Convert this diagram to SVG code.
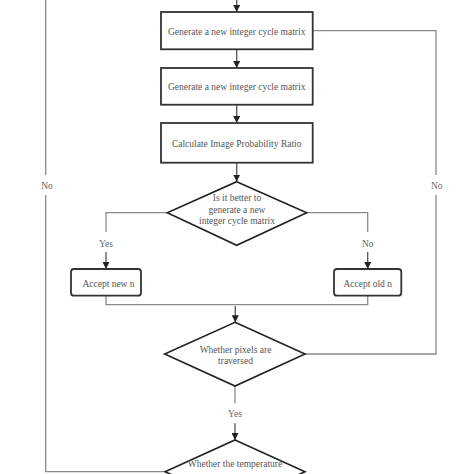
<svg xmlns="http://www.w3.org/2000/svg" width="474" height="474" viewBox="0 0 474 474">
<style>
.box{fill:#fff;stroke:#333;stroke-width:1.8}
.dia{fill:#fff;stroke:#222;stroke-width:1.6}
.ln{fill:none;stroke:#8a8a8a;stroke-width:1.3}
.ar{fill:none;stroke:#555;stroke-width:1.3;marker-end:url(#ah)}
.t{font-family:"Liberation Serif","Times New Roman",serif;font-size:9.5px;fill:#555;text-anchor:middle}
.lb{font-family:"Liberation Serif","Times New Roman",serif;font-size:9.5px;fill:#666;text-anchor:middle}
</style>
<defs>
<marker id="ah" viewBox="0 0 10 10" refX="10" refY="5" markerWidth="7" markerHeight="7" markerUnits="userSpaceOnUse" orient="auto">
<path d="M0,0 L10,5 L0,10 z" fill="#222"/>
</marker>
</defs>
<rect width="474" height="474" fill="#fff"/>
<g id="connectors">
<path class="ar" d="M236.7,0 V12"/>
<path class="ar" d="M236.7,49.3 V68"/>
<path class="ar" d="M236.7,104.7 V123"/>
<path class="ar" d="M236.7,162.7 V181.7"/>
<path class="ln" d="M167.3,212.7 H106 V232"/>
<path class="ar" d="M106,252 V269"/>
<path class="ln" d="M306.7,212.7 H367.7 V232"/>
<path class="ar" d="M367.7,252 V269"/>
<path class="ln" d="M106,295.7 V304.7 H367.7 V295.7"/>
<path class="ar" d="M235.3,306 V322.3"/>
<path class="ln" d="M235,386 V403.3"/>
<path class="ar" d="M235,423.3 V440"/>
<path class="ln" d="M305,354 H436 V195"/>
<path class="ln" d="M436,175 V30.7 H312.7"/>
<path class="ln" d="M165,471.7 H45.7 V195"/>
<path class="ln" d="M45.7,175 V0"/>
<text class="lb" x="106" y="246.5">Yes</text>
<text class="lb" x="367.7" y="246.5">No</text>
<text class="lb" x="235" y="417.2">Yes</text>
<text class="lb" x="47" y="189">No</text>
<text class="lb" x="436.7" y="189">No</text>
</g>
<g id="box1">
<rect class="box" x="161" y="12" width="151.7" height="37.3"/>
<text class="t" x="236.7" y="35.3">Generate a new integer cycle matrix</text>
</g>
<g id="box2">
<rect class="box" x="161" y="68" width="151.7" height="36.7"/>
<text class="t" x="236.7" y="90.3">Generate a new integer cycle matrix</text>
</g>
<g id="box3">
<rect class="box" x="161" y="123" width="151.7" height="39.7"/>
<text class="t" x="236.7" y="147.3">Calculate Image Probability Ratio</text>
</g>
<g id="decision1">
<polygon class="dia" points="236.7,181.7 306.7,212.7 236.7,245.3 167.3,212.7"/>
<text class="t" x="237" y="201">Is it better to</text>
<text class="t" x="237" y="212.6">generate a new</text>
<text class="t" x="237" y="224.3">integer cycle matrix</text>
</g>
<g id="acceptNew">
<rect class="box" x="71" y="269" width="70" height="26.7" rx="3"/>
<text class="t" x="108.5" y="287.3">Accept new n</text>
</g>
<g id="acceptOld">
<rect class="box" x="334" y="269" width="67.3" height="26.7" rx="3"/>
<text class="t" x="367.7" y="287.3">Accept old n</text>
</g>
<g id="decision2">
<polygon class="dia" points="235,322.3 305,354 235,386 164.7,354"/>
<text class="t" x="235.5" y="353">Whether pixels are</text>
<text class="t" x="235.5" y="364.3">traversed</text>
</g>
<g id="decision3">
<polygon class="dia" points="235,440 305,471.7 235,503 165,471.7"/>
<text class="t" x="235" y="467.3">Whether the temperature</text>
</g>
</svg>
